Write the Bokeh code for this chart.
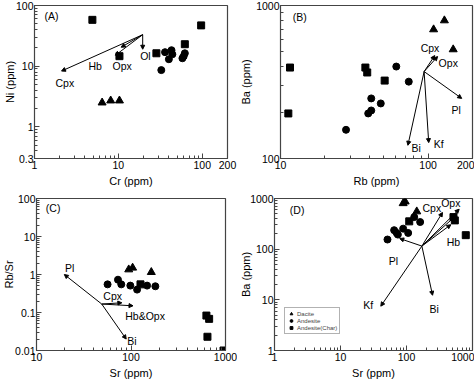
from bokeh.plotting import figure
from bokeh.models import (ColumnDataSource, Arrow, NormalHead, FixedTicker,
                          PrintfTickFormatter, Range1d, Legend, LegendItem)
from bokeh.layouts import column, row
from bokeh.core.properties import value
from bokeh.embed import file_html
from bokeh.resources import INLINE

FONT = "Liberation Sans"

# ---------------- Panel A : Cr vs Ni ----------------
a_dac_x = [6.4, 8.1, 10.3]
a_dac_y = [2.5, 2.7, 2.7]
a_and_x = [36, 43, 44, 40, 32.5, 60, 62, 58]
a_and_y = [17, 18.3, 15.7, 13, 8.6, 14.5, 16.3, 13.5]
a_chr_x = [4.9, 97, 62, 28.4, 10.3]
a_chr_y = [58, 47, 23, 16.3, 14.6]
a_vec_x0 = [19.5, 19.5, 19.5, 19.5]
a_vec_y0 = [33, 33, 33, 33]
a_vec_x1 = [2.1, 10.8, 9.2, 19.5]
a_vec_y1 = [8.3, 20.5, 15.1, 19]
a_lab_text = ["Cpx", "Hb", "Opx", "Ol", "(A)"]
a_lab_x = [2.3, 5.3, 11.1, 21, 1.6]
a_lab_y = [5.3, 10, 10, 14.6, 66]

# ---------------- Panel B : Rb vs Ba ----------------
b_dac_x = [109, 129, 148]
b_dac_y = [697, 798, 516]
b_and_x = [27.8, 39.3, 41.2, 41.2, 47.8, 60.9, 74]
b_and_y = [154, 197, 206, 247, 229, 399, 318]
b_chr_x = [11.6, 11.3, 37.6, 38.7, 50.8]
b_chr_y = [393, 197, 393, 365, 323]
b_vec_x0 = [94, 94, 94, 94, 94]
b_vec_y0 = [370, 370, 370, 370, 370]
b_vec_x1 = [111, 116, 169, 73, 101]
b_vec_y1 = [471, 464, 247, 122, 127]
b_lab_text = ["Cpx", "Opx", "Pl", "Bi", "Kf", "(B)"]
b_lab_x = [103, 137, 155, 83, 118, 13.5]
b_lab_y = [531, 424, 209, 118, 125, 835]

# ---------------- Panel C : Sr vs Rb/Sr ----------------
c_dac_x = [94.6, 104, 164]
c_dac_y = [1.35, 1.5, 1.15]
c_and_x = [56.5, 72.8, 78.9, 98.4, 116, 148, 181]
c_and_y = [0.55, 0.73, 0.55, 0.51, 0.40, 0.51, 0.49]
c_chr_x = [126, 628, 671, 644, 953]
c_chr_y = [0.55, 0.083, 0.068, 0.023, 0.01]
c_vec_x0 = [49, 49, 49, 49]
c_vec_y0 = [0.167, 0.167, 0.167, 0.167]
c_vec_x1 = [19.7, 89, 80, 105]
c_vec_y1 = [1.0, 0.020, 0.18, 0.15]
c_lab_text = ["Pl", "Cpx", "Hb&Opx", "Bi", "(C)"]
c_lab_x = [22.5, 64, 141, 102, 15]
c_lab_y = [1.47, 0.28, 0.079, 0.018, 55.6]

# ---------------- Panel D : Sr vs Ba ----------------
d_dac_x = [89, 95.5, 143]
d_dac_y = [803, 867, 553]
d_and_x = [51.5, 65, 71, 74, 89, 106, 131, 161]
d_and_y = [155, 237, 209, 194, 254, 209, 429, 343]
d_chr_x = [110, 515, 540, 791]
d_chr_y = [354, 429, 370, 189]
d_vec_x0 = [171, 171, 171, 171, 171, 171, 171]
d_vec_y0 = [115, 115, 115, 115, 115, 115, 115]
d_vec_x1 = [79, 248, 40.8, 351, 628, 558, 469]
d_vec_y1 = [162, 12.3, 7.5, 530, 614, 455, 304]
d_lab_text = ["Cpx", "Opx", "Hb", "Pl", "Kf", "Bi", "(D)"]
d_lab_x = [242, 469, 515, 63.5, 26.3, 263, 2.2]
d_lab_y = [641, 803, 138, 59, 7.9, 6.7, 595]

legend_labels = ["Dacite", "Andesite", "Andesite(Char)"]


def minors(lo_exp, hi_exp):
    out = []
    for e in range(lo_exp, hi_exp):
        for m in range(2, 10):
            out.append(m * 10.0 ** e)
    return out


def make_fig(xr, yr, xt, yt, xminor, yminor, xlabel, ylabel, borders, ylab_standoff):
    l, r, t, b = borders
    p = figure(width=237, height=191, x_axis_type="log", y_axis_type="log",
               x_range=Range1d(*xr), y_range=Range1d(*yr),
               output_backend="svg", toolbar_location=None,
               min_border_left=l, min_border_right=r,
               min_border_top=t, min_border_bottom=b)
    p.xgrid.visible = False
    p.ygrid.visible = False
    p.outline_line_color = "#444444"
    p.outline_line_width = 1.2
    p.xaxis.ticker = FixedTicker(ticks=xt, minor_ticks=xminor)
    p.yaxis.ticker = FixedTicker(ticks=yt, minor_ticks=yminor)
    for ax in (p.xaxis, p.yaxis):
        ax.formatter = PrintfTickFormatter(format="%g")
        ax.major_tick_in = 5
        ax.major_tick_out = 0
        ax.minor_tick_in = 3
        ax.minor_tick_out = 0
        ax.axis_line_color = "#444444"
        ax.major_tick_line_color = "#444444"
        ax.minor_tick_line_color = "#444444"
        ax.major_label_text_font = FONT
        ax.major_label_text_font_size = "10.5px"
        ax.major_label_text_color = "black"
        ax.major_label_standoff = 2
        ax.axis_label_text_font = FONT
        ax.axis_label_text_font_size = "11px"
        ax.axis_label_text_font_style = "normal"
        ax.axis_label_text_color = "black"
    p.xaxis.axis_label_standoff = 3
    p.yaxis.axis_label_standoff = ylab_standoff
    p.yaxis.major_label_standoff = 1
    p.xaxis.axis_label = xlabel
    p.yaxis.axis_label = ylabel
    return p


def add_points(p, dx, dy, ax_, ay, cx, cy):
    r1 = p.scatter(dx, dy, marker="triangle", size=8, color="black")
    r2 = p.scatter(ax_, ay, marker="circle", size=7, color="black")
    r3 = p.scatter(cx, cy, marker="square", size=7, color="black")
    return r1, r2, r3


def add_vectors(p, x0, y0, x1, y1):
    src = ColumnDataSource(dict(x0=x0, y0=y0, x1=x1, y1=y1))
    p.add_layout(Arrow(end=NormalHead(size=4, fill_color="black", line_color="black", line_width=1),
                       x_start="x0", y_start="y0", x_end="x1", y_end="y1",
                       source=src, line_color="black", line_width=1))


def add_labels(p, xs, ys, texts):
    p.text(xs, ys, text=texts, text_font=value(FONT), text_font_size="10.5px",
           text_align="center", text_baseline="middle", text_color="black")


pA = make_fig((1, 200), (0.3, 100), [1, 10, 100, 200], [0.3, 1, 10, 100],
              minors(0, 2), [0.4, 0.5, 0.6, 0.7, 0.8, 0.9] + minors(0, 2),
              "Cr (ppm)", "Ni (ppm)", (29, 10, 5, 31), -3)
add_points(pA, a_dac_x, a_dac_y, a_and_x, a_and_y, a_chr_x, a_chr_y)
add_vectors(pA, a_vec_x0, a_vec_y0, a_vec_x1, a_vec_y1)
add_labels(pA, a_lab_x, a_lab_y, a_lab_text)

pB = make_fig((10, 200), (100, 1000), [10, 100, 200], [100, 1000],
              minors(1, 2), minors(2, 3),
              "Rb (ppm)", "Ba (ppm)", (39, 2, 5, 33), 1)
add_points(pB, b_dac_x, b_dac_y, b_and_x, b_and_y, b_chr_x, b_chr_y)
add_vectors(pB, b_vec_x0, b_vec_y0, b_vec_x1, b_vec_y1)
add_labels(pB, b_lab_x, b_lab_y, b_lab_text)

pC = make_fig((10, 1000), (0.01, 100), [10, 100, 1000], [0.01, 0.1, 1, 10, 100],
              minors(1, 3), minors(-2, 2),
              "Sr (ppm)", "Rb/Sr", (30, 12, 7, 32), -3)
add_points(pC, c_dac_x, c_dac_y, c_and_x, c_and_y, c_chr_x, c_chr_y)
add_vectors(pC, c_vec_x0, c_vec_y0, c_vec_x1, c_vec_y1)
add_labels(pC, c_lab_x, c_lab_y, c_lab_text)

pD = make_fig((1, 1000), (1, 1000), [1, 10, 100, 1000], [1, 10, 100, 1000],
              minors(0, 3), minors(0, 3),
              "Sr (ppm)", "Ba (ppm)", (37, 2, 5, 32), -5)
rD = add_points(pD, d_dac_x, d_dac_y, d_and_x, d_and_y, d_chr_x, d_chr_y)
add_vectors(pD, d_vec_x0, d_vec_y0, d_vec_x1, d_vec_y1)
add_labels(pD, d_lab_x, d_lab_y, d_lab_text)

legend = Legend(items=[LegendItem(label=lab, renderers=[r]) for lab, r in zip(legend_labels, rD)],
                location=(10, 16), orientation="vertical",
                label_text_font=FONT, label_text_font_size="6px",
                glyph_width=8, glyph_height=7, label_height=6,
                spacing=0, padding=2, margin=0, label_standoff=2,
                border_line_color="#666666", border_line_width=1,
                background_fill_color="white", background_fill_alpha=1)
pD.add_layout(legend, "center")

layout = column(row(pA, pB), row(pC, pD))
open("out.html", "w").write(file_html(layout, INLINE))
